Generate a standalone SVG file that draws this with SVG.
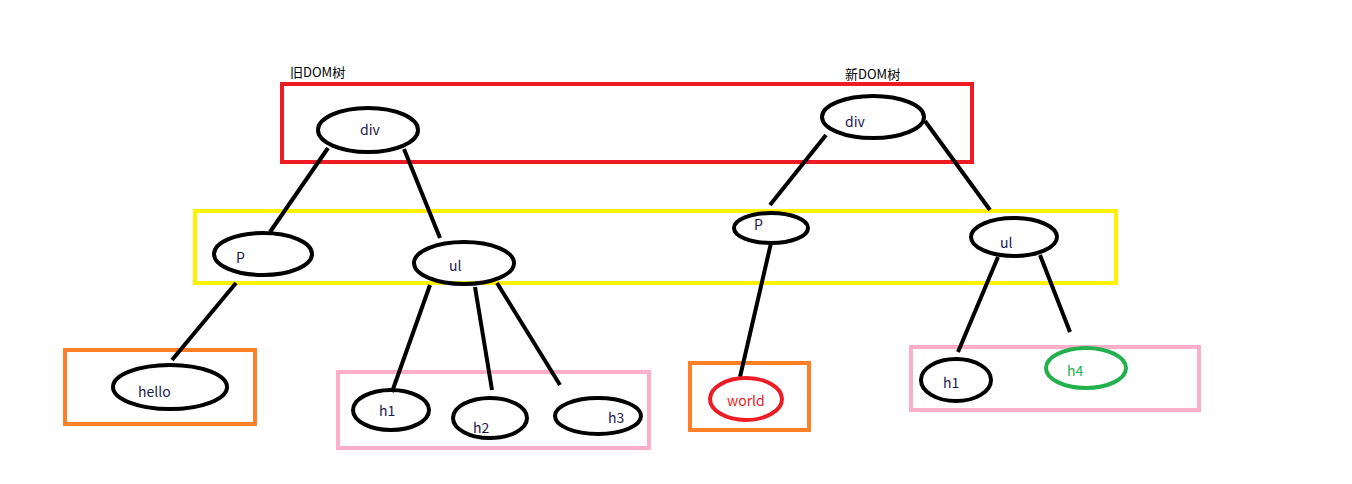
<svg xmlns="http://www.w3.org/2000/svg" width="1352" height="484" viewBox="0 0 1352 484">
<style>
.n{fill:none;stroke:#000;stroke-width:4}
.b{fill:none;stroke-width:4}
text{font-family:"Microsoft YaHei","Noto Sans CJK SC","Liberation Sans",sans-serif;font-size:14px;fill:#1a1a4a}
.t{font-size:13px;fill:#000}
</style>
<rect width="1352" height="484" fill="#fff"/>
<g id="frames">
<rect class="b" stroke="#ed1c24" x="282" y="84" width="690" height="78"/>
<rect class="b" stroke="#fff200" x="195" y="211" width="921" height="72"/>
<rect class="b" stroke="#ff7f27" x="65" y="350" width="190" height="74"/>
<rect class="b" stroke="#ffaec9" x="338" y="372" width="311" height="76"/>
<rect class="b" stroke="#ff7f27" x="690" y="363" width="119" height="67"/>
<rect class="b" stroke="#ffaec9" x="911" y="347" width="288" height="63"/>
</g>
<text class="t" x="290" y="77">旧DOM树</text>
<text class="t" x="845" y="79">新DOM树</text>
<g id="connectors" stroke="#000" stroke-width="4">
<line x1="328" y1="148" x2="270" y2="232"/>
<line x1="404" y1="149" x2="440" y2="238"/>
<line x1="236" y1="283" x2="172" y2="360"/>
<line x1="430" y1="285" x2="392" y2="392"/>
<line x1="475" y1="287" x2="492" y2="390"/>
<line x1="497" y1="283" x2="560" y2="385"/>
<line x1="771" y1="243" x2="740" y2="377"/>
<line x1="826" y1="135" x2="770" y2="205"/>
<line x1="925" y1="121" x2="990" y2="210"/>
<line x1="998" y1="257" x2="958" y2="352"/>
<line x1="1040" y1="255" x2="1070" y2="332"/>
</g>
<g id="div-old"><ellipse class="n" cx="368" cy="130" rx="50" ry="22"/><text x="360" y="135">div</text></g>
<g id="div-new"><ellipse class="n" cx="873" cy="117" rx="51" ry="21"/><text x="845" y="127">div</text></g>
<g id="p-old"><ellipse class="n" cx="263" cy="254" rx="49" ry="21"/><text x="236" y="263">P</text></g>
<g id="ul-old"><ellipse class="n" cx="464" cy="263" rx="50" ry="21"/><text x="449" y="271">ul</text></g>
<g id="p-new"><ellipse class="n" cx="771" cy="228" rx="37" ry="15"/><text x="754" y="230">P</text></g>
<g id="ul-new"><ellipse class="n" cx="1014" cy="237" rx="43" ry="19"/><text x="1000" y="248">ul</text></g>
<g id="hello"><ellipse class="n" cx="170" cy="387" rx="57" ry="22"/><text x="138" y="397">hello</text></g>
<g id="h1-old"><ellipse class="n" cx="391" cy="410" rx="38" ry="20"/><text x="379" y="416">h1</text></g>
<g id="h2-old"><ellipse class="n" cx="490" cy="418" rx="37" ry="20"/><text x="473" y="433">h2</text></g>
<g id="h3-old"><ellipse class="n" cx="598" cy="416" rx="43" ry="18"/><text x="608" y="423">h3</text></g>
<g id="world"><ellipse class="b" stroke="#ed1c24" cx="746" cy="399" rx="36" ry="21"/><text x="727" y="406" fill="#ed1c24" style="fill:#ed1c24">world</text></g>
<g id="h1-new"><ellipse class="n" cx="956" cy="380" rx="35" ry="21"/><text x="943" y="388">h1</text></g>
<g id="h4-new"><ellipse class="b" stroke="#22b14c" cx="1086" cy="368" rx="40" ry="20"/><text x="1067" y="376" style="fill:#22b14c">h4</text></g>
</svg>
